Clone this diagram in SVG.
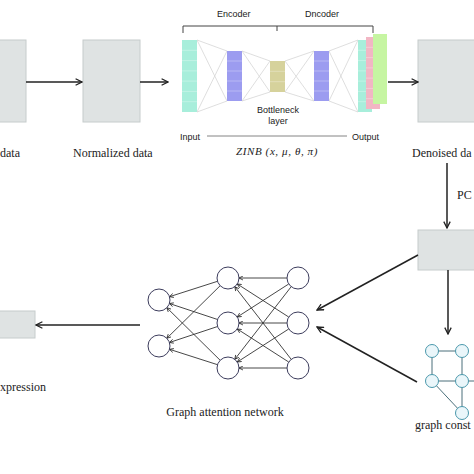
<svg xmlns="http://www.w3.org/2000/svg" width="474" height="474" viewBox="0 0 474 474">
<defs>
<marker id="ah" viewBox="0 0 10 10" refX="9" refY="5" markerWidth="8" markerHeight="8" markerUnits="userSpaceOnUse" orient="auto">
<path d="M1,1 L9,5 L1,9" fill="none" stroke="#222" stroke-width="1.6"/>
</marker>
<marker id="ahs" viewBox="0 0 10 10" refX="9" refY="5" markerWidth="5" markerHeight="5" markerUnits="userSpaceOnUse" orient="auto">
<path d="M1,1 L9,5 L1,9" fill="none" stroke="#222" stroke-width="1.6"/>
</marker>
</defs>
<style>
.box{fill:#dfe3e3;stroke:#c6cccc;stroke-width:1}
.serif{font-family:"Liberation Serif","Times New Roman",serif;font-size:12px;fill:#222}
.sans{font-family:"Liberation Sans",Arial,sans-serif;font-size:9px;fill:#222}
.arr{stroke:#222;stroke-width:1.5;fill:none;marker-end:url(#ah)}
.garr{stroke:#333;stroke-width:0.9;fill:none;marker-end:url(#ahs)}
.nn{fill:#fff;stroke:#3c3c5c;stroke-width:1}
.ae{stroke:#d6d6d6;stroke-width:0.8;fill:none}
.cell{stroke:#fff;stroke-width:0.5;stroke-opacity:0.6}
.gc{fill:#eaf6fa;stroke:#4a98ac;stroke-width:1}
.ge{stroke:#4a6f7a;stroke-width:1;fill:none}
</style>
<rect width="474" height="474" fill="#fff"/>

<g id="raw-data">
<rect class="box" x="-2" y="40" width="28" height="82"/>
<text class="serif" x="0" y="157">data</text>
</g>
<g id="normalized-data">
<rect class="box" x="83" y="40" width="57" height="82"/>
<text class="serif" x="73" y="157">Normalized data</text>
</g>

<g id="autoencoder">
<text class="sans" x="217" y="17">Encoder</text>
<text class="sans" x="305" y="17">Dncoder</text>
<path d="M183,33 V26 H373 V33 M277,26 V31" stroke="#444" stroke-width="1" fill="none"/>
<g class="ae">
<path d="M197,40 L227,51 M197,112 L227,101 M197,40 L227,101 M197,112 L227,51"/>
<path d="M242,51 L270,61 M242,101 L270,92 M242,51 L270,92 M242,101 L270,61"/>
<path d="M285,61 L314,51 M285,92 L314,101 M285,61 L314,101 M285,92 L314,51"/>
<path d="M329,51 L358,40 M329,101 L358,112 M329,51 L358,112 M329,101 L358,40"/>
</g>
<rect x="182" y="40" width="15" height="72" fill="#a8eedb"/>
<path class="cell" d="M182,50.3 H197 M182,60.6 H197 M182,70.9 H197 M182,81.1 H197 M182,91.4 H197 M182,101.7 H197"/>
<rect x="227" y="51" width="15" height="50" fill="#9c9cf0"/>
<path class="cell" d="M227,61 H242 M227,71 H242 M227,81 H242 M227,91 H242"/>
<rect x="270" y="61" width="15" height="31" fill="#d6d29c"/>
<path class="cell" d="M270,71.3 H285 M270,81.7 H285"/>
<rect x="314" y="51" width="15" height="50" fill="#9c9cf0"/>
<path class="cell" d="M314,61 H329 M314,71 H329 M314,81 H329 M314,91 H329"/>
<rect x="358" y="40" width="14" height="72" fill="#a8eedb"/>
<path class="cell" d="M358,50.3 H372 M358,60.6 H372 M358,70.9 H372 M358,81.1 H372 M358,91.4 H372 M358,101.7 H372"/>
<rect x="366" y="37" width="14" height="72" fill="#f2b6c4"/>
<path class="cell" d="M366,47.3 H373 M366,57.6 H373 M366,67.9 H373 M366,78.1 H373 M366,88.4 H373 M366,98.7 H373"/>
<rect x="373" y="34" width="14" height="70" fill="#c6f5a2"/>
<text class="sans" x="278" y="113" text-anchor="middle">Bottleneck</text>
<text class="sans" x="278" y="124" text-anchor="middle">layer</text>
<text class="sans" x="180" y="140">Input</text>
<text class="sans" x="352" y="140">Output</text>
<line x1="207" y1="136" x2="347" y2="136" stroke="#666" stroke-width="0.8"/>
<text x="277" y="155" text-anchor="middle" font-family="Liberation Serif, serif" font-style="italic" font-size="11" fill="#222" letter-spacing="0.6">ZINB (x, μ, θ, π)</text>
</g>

<g id="denoised-data">
<rect class="box" x="418" y="40" width="60" height="82"/>
<text class="serif" x="412" y="157">Denoised da</text>
<text class="serif" x="457" y="199">PC</text>
</g>

<g id="pca-box">
<rect class="box" x="418" y="230" width="60" height="40"/>
</g>

<g id="graph-construction">
<g class="ge">
<line x1="432" y1="351" x2="462" y2="351"/>
<line x1="432" y1="351" x2="432" y2="381"/>
<line x1="462" y1="351" x2="462" y2="381"/>
<line x1="432" y1="381" x2="462" y2="381"/>
<line x1="462" y1="381" x2="462" y2="413"/>
<line x1="432" y1="381" x2="462" y2="413"/>
<line x1="462" y1="381" x2="478" y2="381"/>
</g>
<circle class="gc" cx="432" cy="351" r="6.5"/>
<circle class="gc" cx="462" cy="351" r="6.5"/>
<circle class="gc" cx="432" cy="381" r="6.5"/>
<circle class="gc" cx="462" cy="381" r="6.5"/>
<circle class="gc" cx="462" cy="413" r="6.5"/>
<text class="serif" x="415" y="429">graph const</text>
</g>

<g id="graph-attention-network">
<g class="garr">
<line x1="217.5" y1="281.3" x2="169.5" y2="296.7"/>
<line x1="220.2" y1="285.7" x2="166.8" y2="338.3"/>
<line x1="217.6" y1="319.5" x2="169.4" y2="303.5"/>
<line x1="217.6" y1="326.5" x2="169.4" y2="342.5"/>
<line x1="220.2" y1="360.3" x2="166.8" y2="307.7"/>
<line x1="217.5" y1="364.7" x2="169.5" y2="349.3"/>
<line x1="287" y1="278" x2="239" y2="278"/>
<line x1="288.7" y1="284" x2="237.3" y2="317"/>
<line x1="291.2" y1="286.7" x2="234.8" y2="359.3"/>
<line x1="288.7" y1="317" x2="237.3" y2="284"/>
<line x1="287" y1="323" x2="239" y2="323"/>
<line x1="288.7" y1="329" x2="237.3" y2="362"/>
<line x1="291.2" y1="359.3" x2="234.8" y2="286.7"/>
<line x1="288.7" y1="362" x2="237.3" y2="329"/>
<line x1="287" y1="368" x2="239" y2="368"/>
</g>
<circle class="nn" cx="159" cy="300" r="11"/>
<circle class="nn" cx="159" cy="346" r="11"/>
<circle class="nn" cx="228" cy="278" r="11"/>
<circle class="nn" cx="228" cy="323" r="11"/>
<circle class="nn" cx="228" cy="368" r="11"/>
<circle class="nn" cx="298" cy="278" r="11"/>
<circle class="nn" cx="298" cy="323" r="11"/>
<circle class="nn" cx="298" cy="368" r="11"/>
<text class="serif" x="225" y="416" text-anchor="middle">Graph attention network</text>
</g>

<g id="gene-expression">
<rect class="box" x="-2" y="311" width="37" height="27"/>
<text class="serif" x="0" y="391">xpression</text>
</g>

<g id="connectors">
<line class="arr" x1="26" y1="82" x2="82" y2="82"/>
<line class="arr" x1="140" y1="82" x2="168" y2="82"/>
<line class="arr" x1="388" y1="82" x2="418" y2="82"/>
<line class="arr" x1="447" y1="163" x2="447" y2="228"/>
<line class="arr" x1="448" y1="270" x2="448" y2="334"/>
<line class="arr" x1="418" y1="255" x2="317" y2="310"/>
<line class="arr" x1="417" y1="382" x2="317" y2="327"/>
<line class="arr" x1="140" y1="325" x2="36" y2="325"/>
</g>
</svg>
